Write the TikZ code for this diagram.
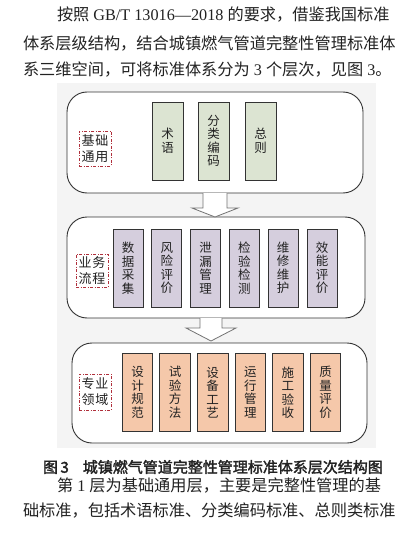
\documentclass[tikz,border=0pt]{standalone}
\usepackage{fontspec}
\setmainfont{Liberation Serif}
\newfontfamily\cjk{Noto Sans CJK SC}
\newfontfamily\cjkb{Noto Sans CJK SC}[FakeBold=2]
\usetikzlibrary{calc}
\definecolor{bgc}{HTML}{F4F4F4}
\definecolor{gA}{HTML}{DCE4D2}
\definecolor{gB}{HTML}{D5CEDD}
\definecolor{gC}{HTML}{F5C8AA}
\definecolor{labred}{HTML}{B0303C}
\definecolor{txt}{HTML}{222222}
\begin{document}
\begin{tikzpicture}[x=1pt,y=-1pt,
  every node/.style={inner sep=0pt, outer sep=0pt, text=txt},
  grp/.style={draw=black!80, line width=0.9pt, fill=white, rounded corners=20pt},
  item/.style={draw=black!80, line width=0.9pt, minimum height=78pt, align=center,
    font=\cjk\fontsize{12.5pt}{13.5pt}\selectfont},
  lab/.style={draw=labred, line width=0.8pt, dash pattern=on 3pt off 1.5pt on 1pt off 1.5pt,
    minimum width=32pt, align=center, font=\cjk\fontsize{13pt}{16pt}\selectfont},
  blockarrow/.style={draw=black!55, fill=white, line width=0.8pt},
  para/.style={anchor=west, font=\fontsize{16.2pt}{16pt}\selectfont},
  capt/.style={anchor=west, font=\cjkb\fontsize{15pt}{15pt}\selectfont}
]
\useasboundingbox (0,0) rectangle (419,540);
\fill[white] (0,0) rectangle (419,540);
\fill[bgc] (57,83) rectangle (376,448);

% top paragraph
\node[para] (p1) at (57,15) {{\cjk 按照} GB/T 13016—2018 {\cjk 的要求，借鉴我国标准}};
\node[para] (p2) at (23,43) {{\cjk 体系层级结构，结合城镇燃气管道完整性管理标准体}};
\node[para] (p3) at (23,70) {{\cjk 系三维空间，可将标准体系分为} 3 {\cjk 个层次，见图} 3{\cjk 。}};

% group 1
\node[grp, minimum width=296pt, minimum height=101pt] (g1) at (215,142.5) {};
\node[lab, minimum height=35pt] (l1) at (95,148.5) {基\hspace{1pt}础\\通\hspace{1pt}用};
\node[item, fill=gA, minimum width=31pt] (a1) at (167.5,141) {术\\语};
\node[item, fill=gA, minimum width=31pt] (a2) at (213.5,141) {分\\类\\编\\码};
\node[item, fill=gA, minimum width=31pt] (a3) at (260.5,141) {总\\则};

% group 2
\node[grp, minimum width=298pt, minimum height=101pt] (g2) at (216,267.5) {};
\node[lab, minimum height=33pt] (l2) at (92,270.5) {业\hspace{1pt}务\\流\hspace{1pt}程};
\node[item, fill=gB, minimum width=30pt] (b1) at (128,268) {数\\据\\采\\集};
\node[item, fill=gB, minimum width=30pt] (b2) at (166.8,268) {风\\险\\评\\价};
\node[item, fill=gB, minimum width=30pt] (b3) at (205.6,268) {泄\\漏\\管\\理};
\node[item, fill=gB, minimum width=30pt] (b4) at (244.4,268) {检\\验\\检\\测};
\node[item, fill=gB, minimum width=30pt] (b5) at (283.2,268) {维\\修\\维\\护};
\node[item, fill=gB, minimum width=30pt] (b6) at (322,268) {效\\能\\评\\价};

% group 3
\node[grp, minimum width=295pt, minimum height=100pt] (g3) at (219.5,393) {};
\node[lab, minimum height=36pt] (l3) at (95,392) {专\hspace{1pt}业\\领\hspace{1pt}域};
\node[item, fill=gC, minimum width=30.5pt] (c1) at (137.5,392.5) {设\\计\\规\\范};
\node[item, fill=gC, minimum width=30.5pt] (c2) at (175.1,392.5) {试\\验\\方\\法};
\node[item, fill=gC, minimum width=30.5pt] (c3) at (212.7,392.5) {设\\备\\工\\艺};
\node[item, fill=gC, minimum width=30.5pt] (c4) at (250.3,392.5) {运\\行\\管\\理};
\node[item, fill=gC, minimum width=30.5pt] (c5) at (287.9,392.5) {施\\工\\验\\收};
\node[item, fill=gC, minimum width=30.5pt] (c6) at (325.5,392.5) {质\\量\\评\\价};

% block arrows
\coordinate (s1) at (g1.south);
\coordinate (t1) at (g1.south |- g2.north);
\draw[blockarrow] ($(s1)+(-12,0)$) -- ($(s1)+(-12,15)$) -- ($(s1)+(-23,15)$) -- (t1)
  -- ($(s1)+(23,15)$) -- ($(s1)+(12,15)$) -- ($(s1)+(12,0)$);
\coordinate (s2) at ($(g2.south)+(-5,0)$);
\coordinate (t2) at ($(s2 |- g3.north)+(0,-2)$);
\draw[blockarrow] ($(s2)+(-11,0)$) -- ($(s2)+(-11,10)$) -- ($(s2)+(-25,10)$) -- (t2)
  -- ($(s2)+(25,10)$) -- ($(s2)+(11,10)$) -- ($(s2)+(11,0)$);

% caption and following text
\node[capt] (cap) at (43,467) {图\,3\hspace{14pt}城镇燃气管道完整性管理标准体系层次结构图};
\node[para] (q1) at (57,485) {{\cjk 第} 1 {\cjk 层为基础通用层，主要是完整性管理的基}};
\node[para] (q2) at (23,511) {{\cjk 础标准，包括术语标准、分类编码标准、总则类标准}};
\end{tikzpicture}
\end{document}
